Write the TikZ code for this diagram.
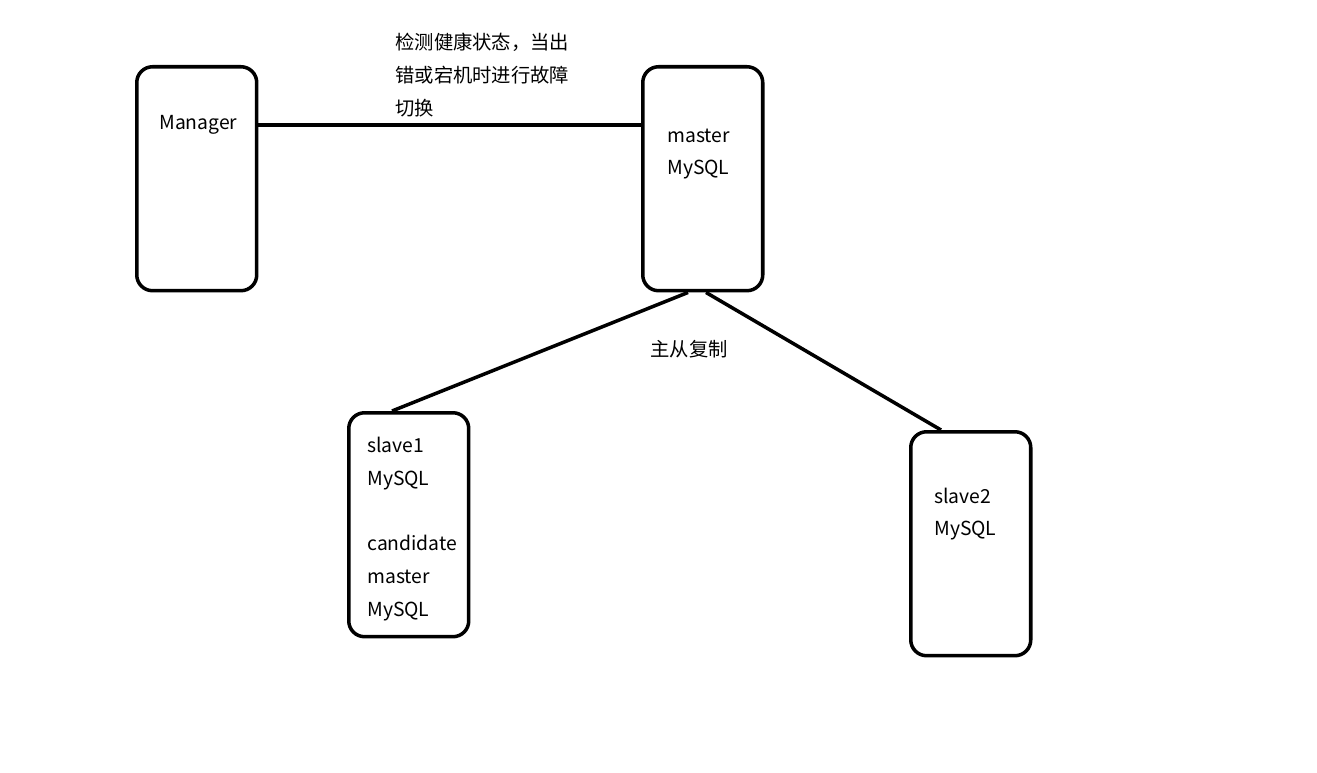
\documentclass[tikz,border=0pt]{standalone}
\usepackage{fontspec}
\setmainfont{Noto Sans CJK SC}
\usetikzlibrary{calc}
\begin{document}
\begin{tikzpicture}[x=0.02cm,y=-0.02cm,
  box/.style={draw,line width=2pt,rounded corners=9pt,minimum width=2.4cm,minimum height=4.48cm,anchor=north west,inner sep=0pt},
  lbl/.style={anchor=west,font=\fontsize{11}{18.7}\selectfont,align=left,inner sep=0pt},
  wire/.style={line width=2pt}]
\useasboundingbox (0,0) rectangle (1317,773);
\node[box] (mgr) at (135,65) {};
\node[box] (mst) at (641,65) {};
\node[box] (s1) at (347,411) {};
\node[box] (s2) at (909,430) {};
\node[lbl] (tmgr) at (159,125) {Manager};
\node[lbl] (tmst) at (667,154) {master\\MySQL};
\node[lbl] (ts1) at (367,529) {slave1\\MySQL\\\mbox{}\\candidate\\master\\MySQL};
\node[lbl] (ts2) at (934,514) {slave2\\MySQL};
\node[lbl] (tcheck) at (395,75) {检测健康状态，当出\\错或宕机时进行故障\\切换};
\node[lbl] (trep) at (650,349) {主从复制};
\coordinate (a) at ($(mgr.north east)+(0,60)$);
\coordinate (b) at ($(mst.north west)+(0,60)$);
\draw[wire] (a) -- (b);
\draw[wire] ($(mst.south west)+(47,0)$) -- ($(s1.north west)+(45,0)$);
\draw[wire] ($(mst.south west)+(65,0)$) -- ($(s2.north west)+(32,0)$);
\end{tikzpicture}
\end{document}
